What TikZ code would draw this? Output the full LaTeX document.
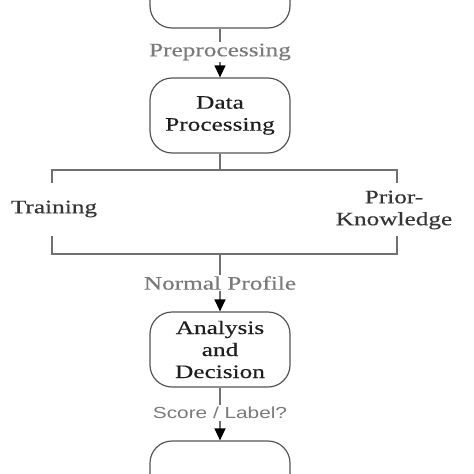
\documentclass[tikz,border=0pt]{standalone}
\usepackage{fontspec}
\setmainfont{Liberation Serif}[FakeStretch=1.33,FakeBold=0.4]
\newfontfamily\lblsans{Liberation Sans}[FakeStretch=1.3]
\usetikzlibrary{arrows.meta}
\definecolor{linec}{HTML}{707070}
\definecolor{boxc}{HTML}{555555}
\definecolor{txtc}{HTML}{1E1E1E}
\definecolor{lblc}{HTML}{7A7A7A}
\begin{document}
\begin{tikzpicture}[x=1pt,y=-1pt,
  box/.style={draw=boxc, line width=1.2pt, rounded corners=22pt, minimum width=140pt, minimum height=75pt, inner sep=0pt, align=center, font=\fontsize{19}{22}\selectfont, text=txtc},
  lbl/.style={inner sep=1.5pt, font=\fontsize{19}{22}\selectfont, text=lblc},
  slbl/.style={inner sep=1.5pt, font=\lblsans\fontsize{16}{19}\selectfont, text=lblc},
  side/.style={align=center, inner sep=0pt, font=\fontsize{19}{22}\selectfont, text=txtc!90!white},
  conn/.style={draw=linec, line width=1.2pt},
  arr/.style={conn, -{Triangle[width=11pt,length=12pt,color=black]}}
]
\useasboundingbox (0,0) rectangle (474,474);
\clip (0,0) rectangle (474,474);
\node[box] (top) at (220,-9.5) {};
\node[box] (dp) at (220,115.5) {Data\\Processing};
\node[side] (train) at (54,209) {Training};
\node[side] (prior) at (394,210) {Prior-\\Knowledge};
\node[box] (ad) at (220,349.5) {Analysis\\and\\Decision};
\node[box] (rep) at (220,478.5) {};
\node[lbl] (pre) at (220,52) {Preprocessing};
\node[lbl] (np) at (220,283) {Normal Profile};
\node[slbl] (sl) at (220,413) {Score / Label?};
\coordinate (tl) at (52,170);
\coordinate (tr) at (397,170);
\coordinate (tc) at (220,170);
\coordinate (tl1) at (52,183);
\coordinate (tr1) at (397,183);
\coordinate (bl) at (52,254);
\coordinate (br) at (397,254);
\coordinate (bc) at (220,254);
\coordinate (bl1) at (52,236);
\coordinate (br1) at (397,236);
\draw[conn] (top) -- (pre);
\draw[arr] (pre) -- (dp);
\draw[conn] (dp) -- (tc);
\draw[conn] (tl1) -- (tl) -- (tr) -- (tr1);
\draw[conn] (bl1) -- (bl) -- (br) -- (br1);
\draw[conn] (bc) -- (np);
\draw[arr] (np) -- (ad);
\draw[conn] (ad) -- (sl);
\draw[arr] (sl) -- (rep);
\end{tikzpicture}
\end{document}
